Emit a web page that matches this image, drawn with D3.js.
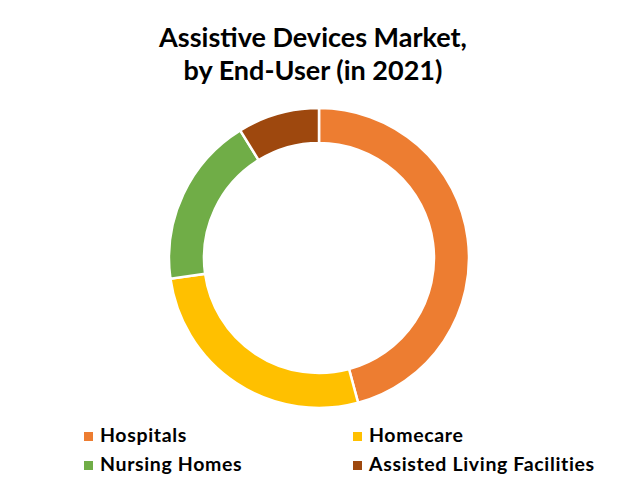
<!DOCTYPE html>
<html>
<head>
<meta charset="utf-8">
<script src="https://cdn.jsdelivr.net/npm/d3@7"></script>
<style>
  body { margin: 0; background: #fff; }
  text { font-family: Lato, "Open Sans", sans-serif; font-weight: bold; fill: #000; }
</style>
</head>
<body>
<div id="chart"></div>
<script>
const categories = ['Hospitals', 'Homecare', 'Nursing Homes', 'Assisted Living Facilities'];
const shares = [45.8, 27.0, 18.4, 8.8];
const colors = ['#ED7D31', '#FFC000', '#70AD47', '#9E480E'];
const titleLines = ['Assistive Devices Market,', 'by End-User (in 2021)'];

const width = 629, height = 480;
const cx = 319, cy = 258;
const outerR = 150, innerR = 115;

const svg = d3.select('#chart').append('svg')
  .attr('width', width)
  .attr('height', height);

// title
svg.append('g')
  .selectAll('text')
  .data(titleLines)
  .join('text')
  .attr('x', 313)
  .attr('y', (d, i) => 47 + i * 33)
  .attr('text-anchor', 'middle')
  .style('font-size', '27px')
  .text(d => d);

const data = categories.map((name, i) => ({ name, value: shares[i] }));

const pie = d3.pie()
  .value(d => d.value)
  .sort(null);

const arc = d3.arc()
  .innerRadius(innerR)
  .outerRadius(outerR);

const color = d3.scaleOrdinal(categories, colors);

svg.append('g')
  .attr('transform', `translate(${cx},${cy})`)
  .selectAll('path')
  .data(pie(data))
  .join('path')
  .attr('d', arc)
  .attr('fill', d => color(d.data.name))
  .attr('stroke', '#fff')
  .attr('stroke-width', 2.5);

// legend, 2 columns
const colX = [84, 353];
const legend = svg.append('g')
  .selectAll('g')
  .data(categories)
  .join('g')
  .attr('transform', (d, i) => `translate(${colX[i % 2]},${442 + Math.floor(i / 2) * 29})`);

legend.append('rect')
  .attr('x', 0)
  .attr('y', -10)
  .attr('width', 9)
  .attr('height', 9)
  .attr('fill', d => color(d));

legend.append('text')
  .attr('x', 16)
  .attr('y', 0)
  .style('font-size', '19.5px')
  .style('letter-spacing', '0.65px')
  .text(d => d);
</script>
</body>
</html>
